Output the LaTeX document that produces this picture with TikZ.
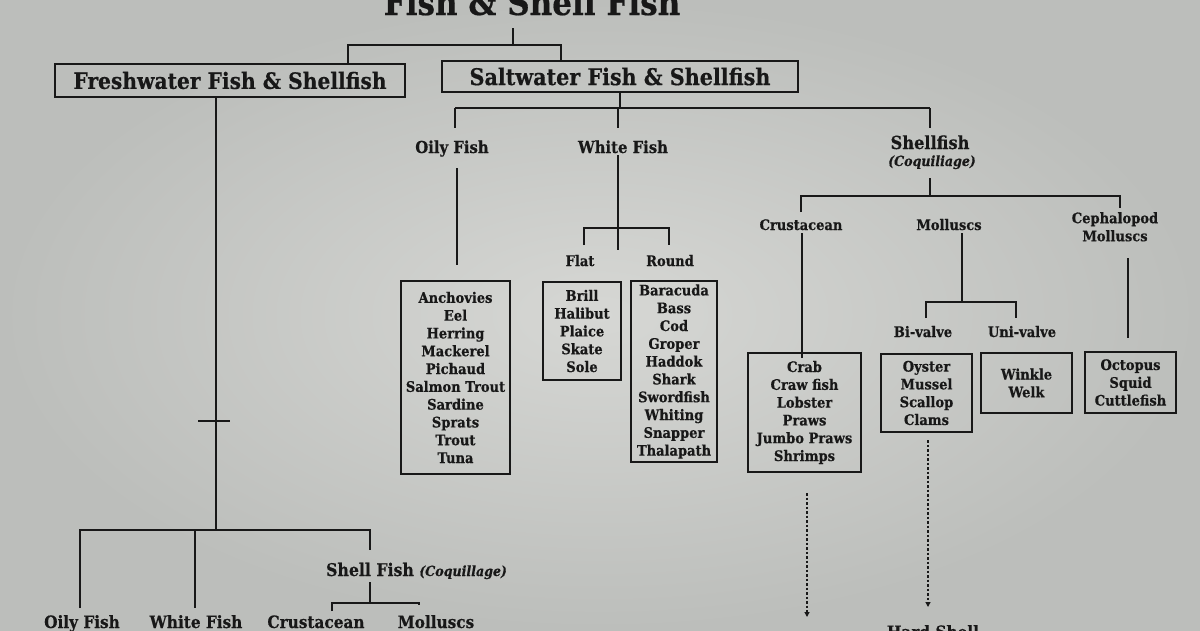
\documentclass[tikz,border=0pt]{standalone}
\usepackage{fontspec}
\setmainfont{DejaVu Serif}[FakeStretch=0.9, BoldFeatures={FakeBold=0.5}, BoldItalicFeatures={FakeBold=0.5}]
\usetikzlibrary{arrows.meta}
\definecolor{paper}{RGB}{205,207,204}
\definecolor{paperin}{RGB}{214,215,212}
\definecolor{paperout}{RGB}{188,190,187}
\definecolor{ink}{RGB}{24,24,24}
\newcommand{\fs}[1]{\fontsize{#1}{#1}\selectfont}
\begin{document}
\begin{tikzpicture}[x=1pt,y=-1pt,
  ln/.style={draw=ink, line width=1.7pt},
  bx/.style={draw=ink, line width=1.3pt, inner sep=0pt, align=center, text=ink,
    font=\bfseries\fontsize{14.5}{17.8}\selectfont},
  hb/.style={draw=ink, line width=1.9pt, inner sep=0pt, text=ink},
  lbl/.style={text=ink, inner sep=0pt, anchor=base, font=\bfseries\fs{14.5}},
  big/.style={lbl, font=\bfseries\fs{16.5}},
  dotarrow/.style={draw=ink, line width=1.2pt, dash pattern=on 2.5pt off 2pt,
    -{Triangle[length=5pt,width=5pt]}}]
\useasboundingbox (0,0) rectangle (1200,630);
\shade[inner color=paperin, outer color=paperout] (0,0) rectangle (1200,630);
\begin{scope}
\clip (0,0) rectangle (1200,630);
% title and top boxes
\node[lbl, font=\bfseries\fs{34.5}] (title) at (532,15) {Fish \& Shell Fish};
\node[hb, minimum width=350pt, minimum height=33pt, font=\bfseries\fs{22.5}] (fw) at (230,80.5) {Freshwater Fish \& Shellfish};
\node[hb, minimum width=356pt, minimum height=31pt, font=\bfseries\fs{23}] (sw) at (620,76.5) {Saltwater Fish \& Shellfish};
\coordinate (t0) at (513,28);
\coordinate (t1) at (513,45);
\coordinate (tL) at (348,45);
\coordinate (tR) at (561,45);
\draw[ln] (t0) -- (t1);
\draw[ln] (fw.north -| tL) -- (tL) -- (tR) -- (sw.north -| tR);
% saltwater level
\node[big] (oily) at (452,153) {Oily Fish};
\node[big] (white) at (623,153) {White Fish};
\node[big, font=\bfseries\fs{18}] (shell) at (930,149) {Shellfish};
\node[lbl, font=\bfseries\itshape\fs{14}] (coq) at (932,166) {(Coquiliage)};
\coordinate (s1) at (620,108);
\coordinate (sL) at (455,108);
\coordinate (sR) at (930,108);
\draw[ln] (sw.south -| s1) -- (s1);
\draw[ln] (sL) -- (sR);
\draw[ln] (sL) -- (455,128);
\draw[ln] (618,108) -- (618,128);
\draw[ln] (sR) -- (930,128);
% oily fish
\node[bx, minimum width=109pt, minimum height=193pt] (oilybox) at (455.5,377.5)
  {Anchovies\\Eel\\Herring\\Mackerel\\Pichaud\\Salmon Trout\\Sardine\\Sprats\\Trout\\Tuna};
\coordinate (o1) at (457,168);
\coordinate (o2) at (457,265);
\draw[ln] (o1) -- (o2);
% white fish
\node[lbl] (flat) at (580,266) {Flat};
\node[lbl] (round) at (670,266) {Round};
\node[bx, minimum width=78pt, minimum height=98pt] (flatbox) at (582,331) {Brill\\Halibut\\Plaice\\Skate\\Sole};
\node[bx, minimum width=86pt, minimum height=181pt] (roundbox) at (674,371.5)
  {Baracuda\\Bass\\Cod\\Groper\\Haddok\\Shark\\Swordfish\\Whiting\\Snapper\\Thalapath};
\coordinate (w1) at (618,155);
\coordinate (w2) at (618,250);
\coordinate (wL) at (584,228);
\coordinate (wR) at (669,228);
\draw[ln] (w1) -- (w2);
\draw[ln] (584,245) -- (wL) -- (wR) -- (669,245);
% shellfish
\node[lbl] (crus) at (801,230) {Crustacean};
\node[lbl] (moll) at (949,230) {Molluscs};
\node[lbl, align=center, anchor=north, font=\bfseries\fontsize{14.5}{18}\selectfont] (ceph) at (1115,212) {Cephalopod\\Molluscs};
\coordinate (c1) at (930,178);
\coordinate (c2) at (930,196);
\coordinate (cL) at (801,196);
\coordinate (cR) at (1120,196);
\draw[ln] (c1) -- (c2);
\draw[ln] (801,212) -- (cL) -- (cR) -- (1120,208);
\node[bx, minimum width=113pt, minimum height=119pt] (crabbox) at (804.5,412.5)
  {Crab\\Craw fish\\Lobster\\Praws\\Jumbo Praws\\Shrimps};
\coordinate (r1) at (802,233);
\draw[ln] (r1) -- ([yshift=-6pt]crabbox.north -| r1);
\node[lbl] (biv) at (923,337) {Bi-valve};
\node[lbl] (univ) at (1022,337) {Uni-valve};
\coordinate (m1) at (962,233);
\coordinate (m2) at (962,302);
\coordinate (mL) at (926,302);
\coordinate (mR) at (1016,302);
\draw[ln] (m1) -- (m2);
\draw[ln] (926,318) -- (mL) -- (mR) -- (1016,318);
\node[bx, minimum width=91pt, minimum height=78pt] (oysterbox) at (926.5,393)
  {Oyster\\Mussel\\Scallop\\Clams};
\node[bx, minimum width=91pt, minimum height=60pt] (winklebox) at (1026.5,383)
  {Winkle\\Welk};
\node[bx, minimum width=91pt, minimum height=61pt] (octobox) at (1130.5,382.5)
  {Octopus\\Squid\\Cuttlefish};
\coordinate (p1) at (1128,258);
\coordinate (p2) at (1128,338);
\draw[ln] (p1) -- (p2);
% dotted arrows
\coordinate (a1) at (807,493);
\coordinate (a2) at (807,617);
\coordinate (b1) at (928,440);
\coordinate (b2) at (928,607);
\draw[dotarrow] (a1) -- (a2);
\draw[dotarrow] (b1) -- (b2);
\node[lbl, font=\bfseries\fs{17}] (hard) at (933,638) {Hard Shell};
% freshwater branch
\coordinate (f1) at (216,530);
\coordinate (fL) at (80,530);
\coordinate (fR) at (370,530);
\draw[ln] (fw.south -| f1) -- (f1);
\coordinate (k1) at (198,421);
\coordinate (k2) at (230,421);
\draw[line width=1.2pt, draw=ink] (k1) -- (k2);
\draw[ln] (80,608) -- (fL) -- (fR) -- (370,550);
\draw[ln] (195,530) -- (195,608);
\node[lbl, font=\bfseries\fs{17.5}] (sf) at (370,576) {Shell Fish};
\node[lbl, anchor=base west, font=\bfseries\itshape\fs{14}] (sfc) at ([xshift=5pt]sf.base east) {(Coquillage)};
\coordinate (g1) at (370,582);
\coordinate (g2) at (370,603);
\coordinate (gL) at (332,603);
\coordinate (gR) at (419,603);
\draw[ln] (g1) -- (g2);
\draw[ln] (332,611) -- (gL) -- (gR) -- (419,605);
\node[lbl, font=\bfseries\fs{17}] (boily) at (82,628) {Oily Fish};
\node[lbl, font=\bfseries\fs{17}] (bwhite) at (196,628) {White Fish};
\node[lbl, font=\bfseries\fs{17}] (bcrus) at (316,628) {Crustacean};
\node[lbl, font=\bfseries\fs{17}] (bmoll) at (436,628) {Molluscs};
\end{scope}
\end{tikzpicture}
\end{document}
